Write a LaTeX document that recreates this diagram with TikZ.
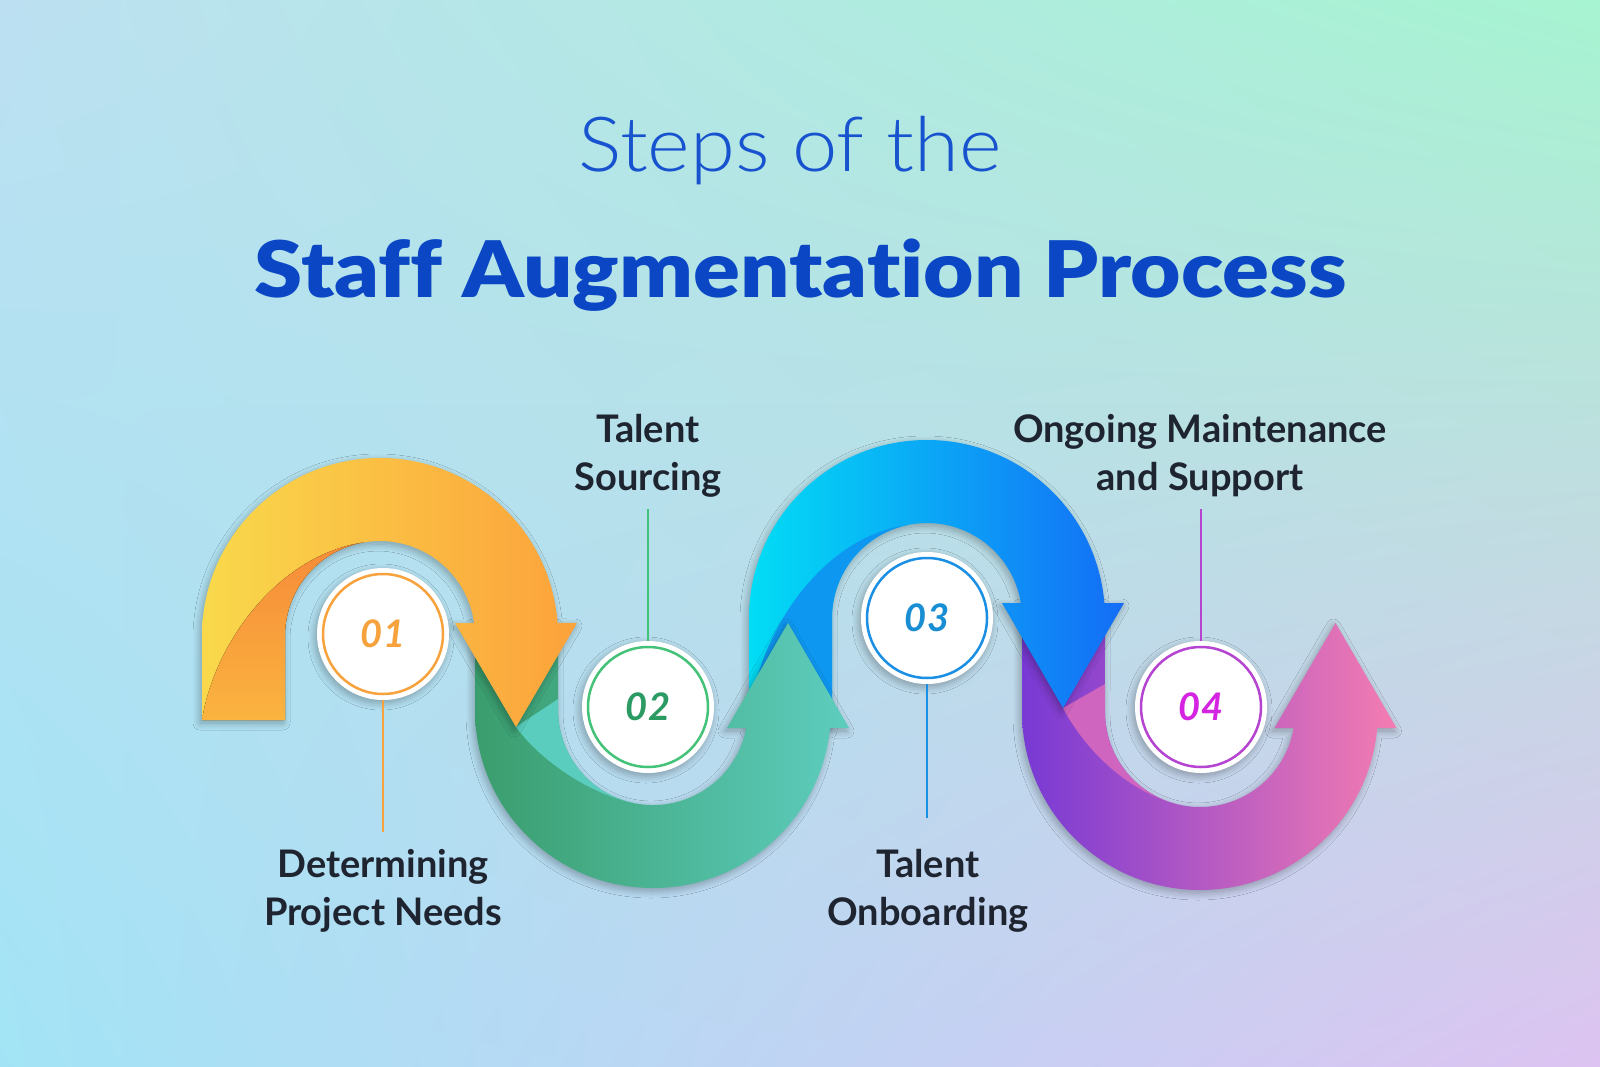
\documentclass[tikz,border=0pt]{standalone}
\usepackage{fontspec}
\setmainfont{Lato}
\IfFontExistsTF{Lato Light}{\newfontfamily\lightfont{Lato Light}}{\newfontfamily\lightfont{Lato}}
\IfFontExistsTF{Lato Black}{\newfontfamily\heavyfont{Lato Black}[Ligatures=NoCommon]}{\newfontfamily\heavyfont{Lato}[UprightFeatures={FakeBold=1.2}, Ligatures=NoCommon]}
\usetikzlibrary{shadows.blur,shadings}
\definecolor{bgTL}{HTML}{BCE0F1}
\definecolor{bgTR}{HTML}{A6F4D1}
\definecolor{bgBL}{HTML}{A2E4F5}
\definecolor{bgBR}{HTML}{DDC3F1}
\definecolor{o1}{HTML}{F9D94B}
\definecolor{o2}{HTML}{FCA23B}
\definecolor{o3}{HTML}{F68A39}
\definecolor{o4}{HTML}{FAB43F}
\definecolor{o5}{HTML}{F7A23C}
\definecolor{g1}{HTML}{3A9D6D}
\definecolor{g2}{HTML}{5DCDBE}
\definecolor{g3}{HTML}{5ACDBF}
\definecolor{g5}{HTML}{44C277}
\definecolor{g6}{HTML}{2C9A63}
\definecolor{b1}{HTML}{02DDF5}
\definecolor{b2}{HTML}{146DF6}
\definecolor{b3}{HTML}{0E97F0}
\definecolor{b5}{HTML}{1B8FE3}
\definecolor{b6}{HTML}{1A8ED3}
\definecolor{p1}{HTML}{7839D4}
\definecolor{p2}{HTML}{F47CB1}
\definecolor{p3}{HTML}{CF65BE}
\definecolor{p5}{HTML}{B544D0}
\definecolor{p6}{HTML}{D424E2}
\definecolor{txt}{HTML}{1F2530}
\definecolor{tblue}{HTML}{1752CF}
\definecolor{tbold}{HTML}{0B47C5}
\tikzset{
  arrowshadow/.style={blur shadow={shadow xshift=-2pt, shadow yshift=-3pt, shadow blur radius=7pt, shadow blur steps=10, shadow opacity=30}},
  circshadow/.style={blur shadow={shadow xshift=-2pt, shadow yshift=-3pt, shadow blur radius=7pt, shadow blur steps=10, shadow opacity=30}},
  disc/.style={circle, fill=white, minimum size=132pt, inner sep=0pt, circshadow},
  ring/.style={circle, draw=#1, line width=2.5pt, minimum size=120pt, inner sep=0pt},
  numtext/.style={font=\fontsize{38}{40}\selectfont\bfseries\itshape},
  steplabel/.style={font=\fontsize{38}{48}\selectfont\bfseries, text=txt, align=center},
  leader/.style={draw=#1, line width=2pt}
}
\begin{document}
\begin{tikzpicture}[x=1pt,y=-1pt]
\useasboundingbox (0,0) rectangle (1600,1067);
\shade[upper left=bgTL, upper right=bgTR, lower left=bgBL, lower right=bgBR] (0,0) rectangle (1600,1067);

% Title
\node[anchor=base, text=tblue, font=\fontsize{76}{80}\selectfont\lightfont, inner sep=0pt] (t1) at (790,172) {\resizebox{423pt}{\height}{Steps of the}};
\node[anchor=base, text=tbold, font=\fontsize{78}{80}\selectfont\heavyfont, inner sep=0pt] (t2) at (801,298) {\resizebox{1092pt}{\height}{Staff Augmentation Process}};

% Arrow 4 (purple-pink, bottom U)
\path[arrowshadow, left color=p1, right color=p2]
 (1022,603) -- (1022,712) arc[start angle=180, end angle=5.2, radius=178]
 -- (1396.5,728) -- (1335.5,623) -- (1274.5,728) -- (1293.6,728)
 arc[start angle=9.7, end angle=180, radius=95] -- (1105,603) -- cycle;
\fill[p3] (1063,708) -- (1105,684) -- (1105,712) arc[start angle=180, end angle=100, radius=95]
 .. controls (1130,795) and (1085,750) .. (1063,708) -- cycle;

% Arrow 3 (blue, top arch)
\path[arrowshadow, left color=b1, right color=b2]
 (749,728) -- (749,618) arc[start angle=180, end angle=355.2, radius=178]
 -- (1124,603) -- (1063,708) -- (1002,603) -- (1020.8,603)
 arc[start angle=350.9, end angle=180, radius=95] -- (832,728) -- cycle;
\fill[b3] (749,715) .. controls (762,620) and (830,535) .. (907.25,525.1)
 arc[start angle=258, end angle=180, radius=95] -- (832,728) -- (749,728) -- cycle;

% Arrow 2 (green, bottom U)
\path[arrowshadow, left color=g1, right color=g2]
 (475,623) -- (475,710) arc[start angle=180, end angle=5.8, radius=178]
 -- (849,728) -- (788,623) -- (727,728) -- (746.3,728)
 arc[start angle=10.9, end angle=180, radius=95] -- (558,623) -- cycle;
\fill[g3] (516,727) -- (558,699) -- (558,710) arc[start angle=180, end angle=100, radius=95]
 .. controls (590,795) and (540,760) .. (516,727) -- cycle;

% Arrow 1 (orange, top arch)
\path[arrowshadow, left color=o1, right color=o2]
 (202,720) -- (202,636) arc[start angle=180, end angle=355.8, radius=178]
 -- (577,623) -- (516,727) -- (455,623) -- (474.1,623)
 arc[start angle=352.1, end angle=180, radius=95] -- (285,720) -- cycle;
\fill[top color=o3, bottom color=o4] (202,720) .. controls (215,640) and (280,555) .. (363.5,542.4)
 arc[start angle=260, end angle=180, radius=95] -- (285,720) -- cycle;

% Circles
\node[disc] (c1) at (383,634) {};
\node[ring=o5, numtext, text=o5] (n1) at (c1) {01};
\node[disc] (c2) at (648,707) {};
\node[ring=g5, numtext, text=g6] (n2) at (c2) {02};
\node[disc] (c3) at (927,618) {};
\node[ring=b5, numtext, text=b6] (n3) at (c3) {03};
\node[disc] (c4) at (1201,707) {};
\node[ring=p5, numtext, text=p6] (n4) at (c4) {04};

% Leader lines
\coordinate (e1) at (383,832);
\coordinate (e2) at (648,509);
\coordinate (e3) at (927,818);
\coordinate (e4) at (1201,509);
\draw[leader=o5] (c1.south) -- (e1);
\draw[leader=g5] (e2) -- (c2.north);
\draw[leader=b5] (c3.south) -- (e3);
\draw[leader=p5] (e4) -- (c4.north);

% Labels (base anchor = baseline of the last line)
\node[steplabel, anchor=base] (l1) at (383,925) {Determining\\Project Needs};
\node[steplabel, anchor=base] (l2) at (648,490) {Talent\\Sourcing};
\node[steplabel, anchor=base] (l3) at (928,925) {Talent\\Onboarding};
\node[steplabel, anchor=base] (l4) at (1200,490) {Ongoing Maintenance\\and Support};
\end{tikzpicture}
\end{document}
